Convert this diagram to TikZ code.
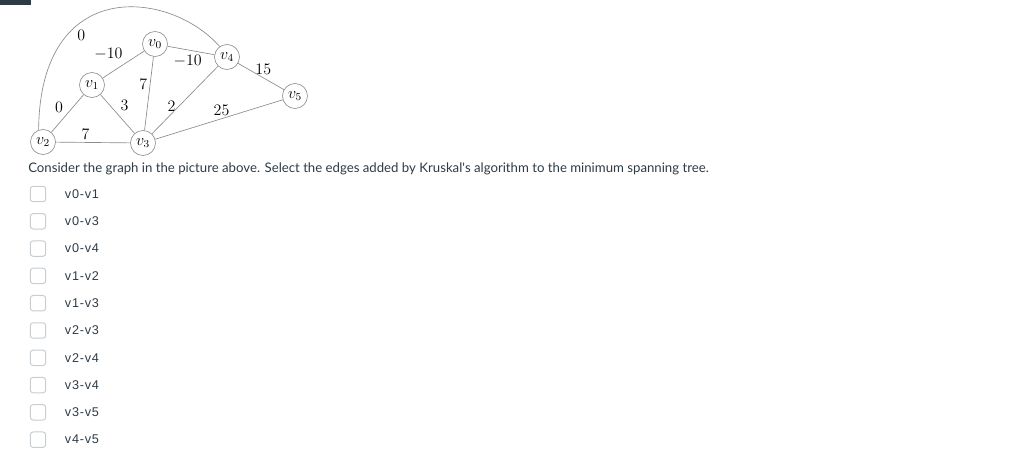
\documentclass[tikz,border=0pt]{standalone}
\usepackage{amsmath}
\usepackage{fontspec}
\usepackage{tikz}
\usetikzlibrary{positioning}
\newfontfamily\latofont{Lato}
\newfontfamily\arialfont[LetterSpace=6]{Liberation Sans}
\definecolor{canvasink}{HTML}{2D3B45}
\definecolor{edgegray}{HTML}{8C8C8C}
\definecolor{boxgray}{HTML}{C7CDD1}
\tikzset{
  vertex/.style={circle, draw=edgegray, line width=0.5pt, minimum size=18.75pt, inner sep=0pt, font=\large},
  wedge/.style={draw=edgegray, line width=0.5pt},
  wlabel/.style={inner sep=2pt, font=\large},
  chk/.style={draw=boxgray, line width=0.75pt, rounded corners=2.2pt, minimum size=11.6pt, inner sep=0pt},
  opt/.style={anchor=west, text=canvasink, font=\arialfont\fontsize{9.5}{11}\selectfont, inner sep=0pt}
}

\begin{document}
\begin{tikzpicture}[x=0.75pt, y=-0.75pt]
    \useasboundingbox (0,0) rectangle (1018,456);
    \fill[canvasink] (0,0) rectangle (31,5);

    % Define nodes
    \node[vertex] (v0) at (155,44)  {$v_0$};
    \node[vertex] (v1) at (92,85)   {$v_1$};
    \node[vertex] (v2) at (43,142)  {$v_2$};
    \node[vertex] (v3) at (143,143) {$v_3$};
    \node[vertex] (v4) at (227,57)  {$v_4$};
    \node[vertex] (v5) at (295,96)  {$v_5$};

    % Connect nodes
    \draw[wedge] (v2.110) .. controls (40,-25) and (170,-10) .. node[wlabel, below right, pos=0.33] {$0$} (v4.125);
    \draw[wedge] (v1) -- node[wlabel, above left, pos=0.55] {$-10$} (v0);
    \draw[wedge] (v0) -- node[wlabel, below=1.5pt, pos=0.43] {$-10$} (v4);
    \draw[wedge] (v4) -- node[wlabel, above, pos=0.55] {$15$} (v5);
    \draw[wedge] (v0) -- node[wlabel, left, pos=0.37] {$7$} (v3);
    \draw[wedge] (v1) -- node[wlabel, above right] {$3$} (v3);
    \draw[wedge] (v3) -- node[wlabel, left, pos=0.4] {$2$} (v4);
    \draw[wedge] (v3) -- node[wlabel, above, pos=0.52] {$25$} (v5);
    \draw[wedge] (v2) -- node[wlabel, above left, pos=0.45] {$0$} (v1);
    \draw[wedge] (v2) -- node[wlabel, above, pos=0.4] {$7$} (v3);

    % question and answers
    \node[anchor=west, text=canvasink, font=\latofont\fontsize{9.9}{11}\selectfont, inner sep=0pt] (question) at (28,169)
      {Consider the graph in the picture above. Select the edges added by Kruskal's algorithm to the minimum spanning tree.};
    \foreach \lab [count=\i from 0, evaluate=\i as \ypos using 194+27.3*\i] in {v0-v1, v0-v3, v0-v4, v1-v2, v1-v3, v2-v3, v2-v4, v3-v4, v3-v5, v4-v5} {
      \node[chk] (box\i) at (38,\ypos) {};
      \node[opt, right=20pt of box\i.center] (opt\i) {\lab};
    }
\end{tikzpicture}
\end{document}
